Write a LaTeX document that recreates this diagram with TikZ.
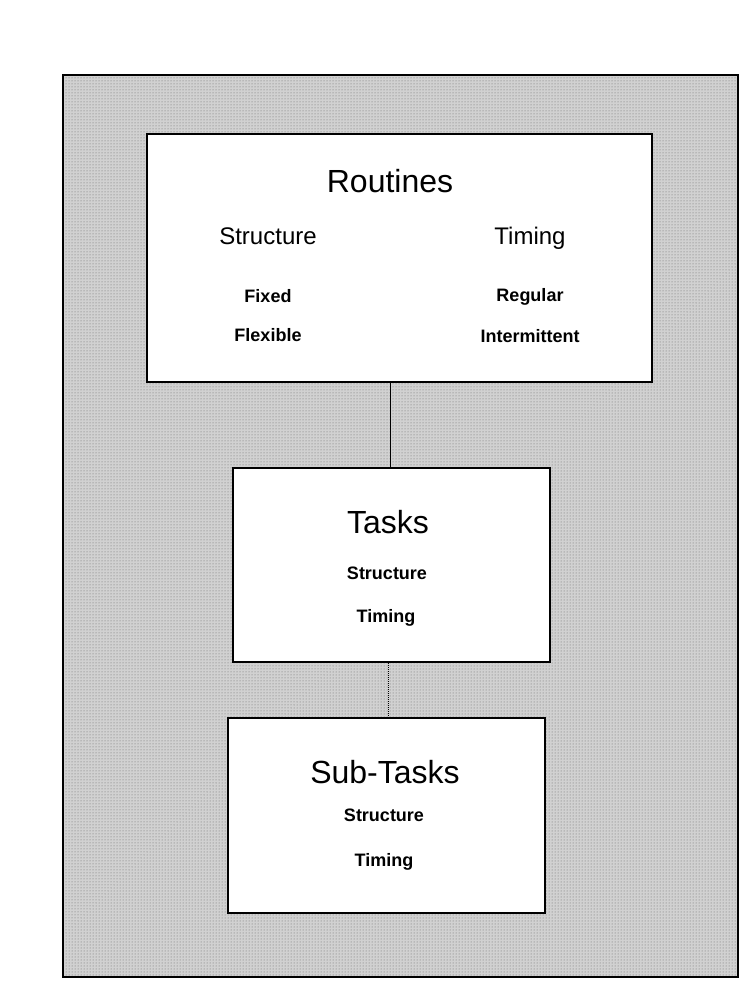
\documentclass[tikz,border=0pt]{standalone}
\usepackage{fontspec}
\setmainfont{Liberation Sans}
\usetikzlibrary{patterns}
\begin{document}
\begin{tikzpicture}[x=1pt,y=-1pt,
  box/.style={draw=black,line width=1.5pt,fill=white},
  head/.style={font=\fontsize{32}{34}\selectfont},
  sub/.style={font=\fontsize{24}{26}\selectfont},
  item/.style={font=\bfseries\fontsize{18}{20}\selectfont}]
\useasboundingbox (0,0) rectangle (754,999);
\fill[white] (0,0) rectangle (754,999);
\fill[black!18] (63,75) rectangle (738,977);
\fill[pattern=dots,pattern color=black!60] (63,75) rectangle (738,977);
\draw[line width=1.2pt] (63,75) rectangle (738,977);
\node[box,minimum width=505pt,minimum height=248pt,anchor=north west] (r) at (146,133) {};
\node[box,minimum width=317pt,minimum height=194pt,anchor=north west] (t) at (232,467) {};
\node[box,minimum width=317pt,minimum height=195pt,anchor=north west] (s) at (227,717) {};
\draw[line width=1pt] (390,381) coordinate (a) -- (390,467);
\draw[line width=1pt,densely dotted] (388,661) -- (388,717);
\node[head] (rh) at (390,181) {Routines};
\node[sub] (rs) at (268,236) {Structure};
\node[sub] (rt) at (530,238) {Timing};
\node[item] (f1) at (268,296) {Fixed};
\node[item] (f2) at (268,335) {Flexible};
\node[item] (g1) at (530,297) {Regular};
\node[item] (g2) at (530,336) {Intermittent};
\node[head] (th) at (388,522) {Tasks};
\node[item] (ts) at (387,573) {Structure};
\node[item] (tt) at (386,618) {Timing};
\node[head] (sh) at (385,772) {Sub-Tasks};
\node[item] (ss) at (384,815) {Structure};
\node[item] (st) at (384,862) {Timing};
\end{tikzpicture}
\end{document}
